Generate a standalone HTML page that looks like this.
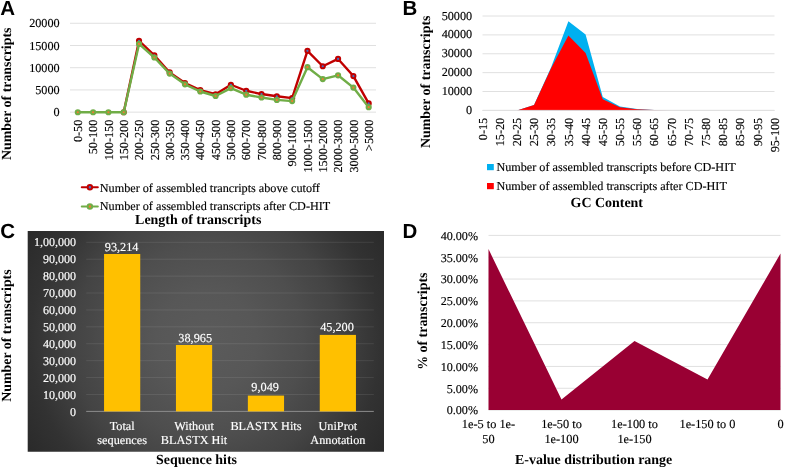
<!DOCTYPE html>
<html><head><meta charset="utf-8"><title>Figure</title>
<style>
html,body{margin:0;padding:0;background:#fff;}
body{width:785px;height:468px;overflow:hidden;}
svg{display:block;}
text{text-rendering:geometricPrecision;}
.S{font-family:"Liberation Serif", "Times New Roman", serif;}
.A{font-family:"Liberation Sans", Arial, sans-serif;}
</style></head><body>
<svg width="785" height="468" viewBox="0 0 785 468">
<defs>
<radialGradient id="cg" gradientUnits="userSpaceOnUse" cx="206" cy="341" r="215">
<stop offset="0" stop-color="rgb(91,91,91)"/>
<stop offset="0.233" stop-color="rgb(87,87,87)"/>
<stop offset="0.451" stop-color="rgb(78,78,78)"/>
<stop offset="0.54" stop-color="rgb(72,72,72)"/>
<stop offset="0.614" stop-color="rgb(68,68,68)"/>
<stop offset="0.814" stop-color="rgb(50,50,50)"/>
<stop offset="0.972" stop-color="rgb(42,42,42)"/>
<stop offset="1" stop-color="rgb(41,41,41)"/>
</radialGradient>
</defs>
<rect width="785" height="468" fill="#fff"/>
<text class="A" x="0.3" y="15.4" font-size="20.5" text-anchor="start" font-weight="bold" fill="#000">A</text>
<line x1="70" y1="23.25" x2="376" y2="23.25" stroke="#e0e0e0" stroke-width="1"/>
<text class="S" x="59.6" y="27.45" font-size="12.2" text-anchor="end" fill="#000000" stroke="#000000" stroke-width="0.15" stroke-linejoin="round">20000</text>
<line x1="70" y1="45.47" x2="376" y2="45.47" stroke="#e0e0e0" stroke-width="1"/>
<text class="S" x="59.6" y="49.67" font-size="12.2" text-anchor="end" fill="#000000" stroke="#000000" stroke-width="0.15" stroke-linejoin="round">15000</text>
<line x1="70" y1="67.69" x2="376" y2="67.69" stroke="#e0e0e0" stroke-width="1"/>
<text class="S" x="59.6" y="71.89" font-size="12.2" text-anchor="end" fill="#000000" stroke="#000000" stroke-width="0.15" stroke-linejoin="round">10000</text>
<line x1="70" y1="89.91" x2="376" y2="89.91" stroke="#e0e0e0" stroke-width="1"/>
<text class="S" x="59.6" y="94.11" font-size="12.2" text-anchor="end" fill="#000000" stroke="#000000" stroke-width="0.15" stroke-linejoin="round">5000</text>
<line x1="70" y1="112.13" x2="376" y2="112.13" stroke="#e0e0e0" stroke-width="1"/>
<text class="S" x="59.6" y="116.33" font-size="12.2" text-anchor="end" fill="#000000" stroke="#000000" stroke-width="0.15" stroke-linejoin="round">0</text>
<text class="S" x="82.0" y="119.7" font-size="12.2" text-anchor="end" fill="#000000" transform="rotate(-90 82.0 119.7)" stroke="#000000" stroke-width="0.15" stroke-linejoin="round">0-50</text>
<text class="S" x="97.31" y="119.7" font-size="12.2" text-anchor="end" fill="#000000" transform="rotate(-90 97.31 119.7)" stroke="#000000" stroke-width="0.15" stroke-linejoin="round">50-100</text>
<text class="S" x="112.62" y="119.7" font-size="12.2" text-anchor="end" fill="#000000" transform="rotate(-90 112.62 119.7)" stroke="#000000" stroke-width="0.15" stroke-linejoin="round">100-150</text>
<text class="S" x="127.93" y="119.7" font-size="12.2" text-anchor="end" fill="#000000" transform="rotate(-90 127.93 119.7)" stroke="#000000" stroke-width="0.15" stroke-linejoin="round">150-200</text>
<text class="S" x="143.24" y="119.7" font-size="12.2" text-anchor="end" fill="#000000" transform="rotate(-90 143.24 119.7)" stroke="#000000" stroke-width="0.15" stroke-linejoin="round">200-250</text>
<text class="S" x="158.55" y="119.7" font-size="12.2" text-anchor="end" fill="#000000" transform="rotate(-90 158.55 119.7)" stroke="#000000" stroke-width="0.15" stroke-linejoin="round">250-300</text>
<text class="S" x="173.86" y="119.7" font-size="12.2" text-anchor="end" fill="#000000" transform="rotate(-90 173.86 119.7)" stroke="#000000" stroke-width="0.15" stroke-linejoin="round">300-350</text>
<text class="S" x="189.17" y="119.7" font-size="12.2" text-anchor="end" fill="#000000" transform="rotate(-90 189.17 119.7)" stroke="#000000" stroke-width="0.15" stroke-linejoin="round">350-400</text>
<text class="S" x="204.48" y="119.7" font-size="12.2" text-anchor="end" fill="#000000" transform="rotate(-90 204.48 119.7)" stroke="#000000" stroke-width="0.15" stroke-linejoin="round">400-450</text>
<text class="S" x="219.79" y="119.7" font-size="12.2" text-anchor="end" fill="#000000" transform="rotate(-90 219.79 119.7)" stroke="#000000" stroke-width="0.15" stroke-linejoin="round">450-500</text>
<text class="S" x="235.1" y="119.7" font-size="12.2" text-anchor="end" fill="#000000" transform="rotate(-90 235.1 119.7)" stroke="#000000" stroke-width="0.15" stroke-linejoin="round">500-600</text>
<text class="S" x="250.41" y="119.7" font-size="12.2" text-anchor="end" fill="#000000" transform="rotate(-90 250.41 119.7)" stroke="#000000" stroke-width="0.15" stroke-linejoin="round">600-700</text>
<text class="S" x="265.72" y="119.7" font-size="12.2" text-anchor="end" fill="#000000" transform="rotate(-90 265.72 119.7)" stroke="#000000" stroke-width="0.15" stroke-linejoin="round">700-800</text>
<text class="S" x="281.03" y="119.7" font-size="12.2" text-anchor="end" fill="#000000" transform="rotate(-90 281.03 119.7)" stroke="#000000" stroke-width="0.15" stroke-linejoin="round">800-900</text>
<text class="S" x="296.34" y="119.7" font-size="12.2" text-anchor="end" fill="#000000" transform="rotate(-90 296.34 119.7)" stroke="#000000" stroke-width="0.15" stroke-linejoin="round">900-1000</text>
<text class="S" x="311.65" y="119.7" font-size="12.2" text-anchor="end" fill="#000000" transform="rotate(-90 311.65 119.7)" stroke="#000000" stroke-width="0.15" stroke-linejoin="round">1000-1500</text>
<text class="S" x="326.96" y="119.7" font-size="12.2" text-anchor="end" fill="#000000" transform="rotate(-90 326.96 119.7)" stroke="#000000" stroke-width="0.15" stroke-linejoin="round">1500-2000</text>
<text class="S" x="342.27" y="119.7" font-size="12.2" text-anchor="end" fill="#000000" transform="rotate(-90 342.27 119.7)" stroke="#000000" stroke-width="0.15" stroke-linejoin="round">2000-3000</text>
<text class="S" x="357.58" y="119.7" font-size="12.2" text-anchor="end" fill="#000000" transform="rotate(-90 357.58 119.7)" stroke="#000000" stroke-width="0.15" stroke-linejoin="round">3000-5000</text>
<text class="S" x="372.89" y="119.7" font-size="12.2" text-anchor="end" fill="#000000" transform="rotate(-90 372.89 119.7)" stroke="#000000" stroke-width="0.15" stroke-linejoin="round">&gt;5000</text>
<polyline points="123.73,112.25 139.04,40.85 154.35,55.25 169.66,72.45 184.97,83.05 200.28,90.05 215.59,94.25 230.90,84.75 246.21,90.75 261.52,94.05 276.83,96.25 292.14,98.15 307.45,50.85 322.76,66.25 338.07,58.95 353.38,76.05 368.69,103.45" fill="none" stroke="#c00000" stroke-width="2.4" stroke-linejoin="round"/>
<circle cx="123.73" cy="112.25" r="2.1" fill="#4472c4" stroke="#c00000" stroke-width="2.0"/>
<circle cx="139.04" cy="40.85" r="2.1" fill="#4472c4" stroke="#c00000" stroke-width="2.0"/>
<circle cx="154.35" cy="55.25" r="2.1" fill="#4472c4" stroke="#c00000" stroke-width="2.0"/>
<circle cx="169.66" cy="72.45" r="2.1" fill="#4472c4" stroke="#c00000" stroke-width="2.0"/>
<circle cx="184.97" cy="83.05" r="2.1" fill="#4472c4" stroke="#c00000" stroke-width="2.0"/>
<circle cx="200.28" cy="90.05" r="2.1" fill="#4472c4" stroke="#c00000" stroke-width="2.0"/>
<circle cx="215.59" cy="94.25" r="2.1" fill="#4472c4" stroke="#c00000" stroke-width="2.0"/>
<circle cx="230.90" cy="84.75" r="2.1" fill="#4472c4" stroke="#c00000" stroke-width="2.0"/>
<circle cx="246.21" cy="90.75" r="2.1" fill="#4472c4" stroke="#c00000" stroke-width="2.0"/>
<circle cx="261.52" cy="94.05" r="2.1" fill="#4472c4" stroke="#c00000" stroke-width="2.0"/>
<circle cx="276.83" cy="96.25" r="2.1" fill="#4472c4" stroke="#c00000" stroke-width="2.0"/>
<circle cx="292.14" cy="98.15" r="2.1" fill="#4472c4" stroke="#c00000" stroke-width="2.0"/>
<circle cx="307.45" cy="50.85" r="2.1" fill="#4472c4" stroke="#c00000" stroke-width="2.0"/>
<circle cx="322.76" cy="66.25" r="2.1" fill="#4472c4" stroke="#c00000" stroke-width="2.0"/>
<circle cx="338.07" cy="58.95" r="2.1" fill="#4472c4" stroke="#c00000" stroke-width="2.0"/>
<circle cx="353.38" cy="76.05" r="2.1" fill="#4472c4" stroke="#c00000" stroke-width="2.0"/>
<circle cx="368.69" cy="103.45" r="2.1" fill="#4472c4" stroke="#c00000" stroke-width="2.0"/>
<polyline points="77.80,112.25 93.11,112.25 108.42,112.25 123.73,112.25 139.04,43.90 154.35,57.50 169.66,73.60 184.97,84.30 200.28,91.50 215.59,96.00 230.90,88.10 246.21,94.70 261.52,97.50 276.83,99.90 292.14,101.10 307.45,67.20 322.76,79.10 338.07,75.30 353.38,87.60 368.69,107.20" fill="none" stroke="#70ad47" stroke-width="2.4" stroke-linejoin="round"/>
<circle cx="77.80" cy="112.25" r="2.1" fill="#ed7d31" stroke="#70ad47" stroke-width="2.0"/>
<circle cx="93.11" cy="112.25" r="2.1" fill="#ed7d31" stroke="#70ad47" stroke-width="2.0"/>
<circle cx="108.42" cy="112.25" r="2.1" fill="#ed7d31" stroke="#70ad47" stroke-width="2.0"/>
<circle cx="123.73" cy="112.25" r="2.1" fill="#ed7d31" stroke="#70ad47" stroke-width="2.0"/>
<circle cx="139.04" cy="43.90" r="2.1" fill="#ed7d31" stroke="#70ad47" stroke-width="2.0"/>
<circle cx="154.35" cy="57.50" r="2.1" fill="#ed7d31" stroke="#70ad47" stroke-width="2.0"/>
<circle cx="169.66" cy="73.60" r="2.1" fill="#ed7d31" stroke="#70ad47" stroke-width="2.0"/>
<circle cx="184.97" cy="84.30" r="2.1" fill="#ed7d31" stroke="#70ad47" stroke-width="2.0"/>
<circle cx="200.28" cy="91.50" r="2.1" fill="#ed7d31" stroke="#70ad47" stroke-width="2.0"/>
<circle cx="215.59" cy="96.00" r="2.1" fill="#ed7d31" stroke="#70ad47" stroke-width="2.0"/>
<circle cx="230.90" cy="88.10" r="2.1" fill="#ed7d31" stroke="#70ad47" stroke-width="2.0"/>
<circle cx="246.21" cy="94.70" r="2.1" fill="#ed7d31" stroke="#70ad47" stroke-width="2.0"/>
<circle cx="261.52" cy="97.50" r="2.1" fill="#ed7d31" stroke="#70ad47" stroke-width="2.0"/>
<circle cx="276.83" cy="99.90" r="2.1" fill="#ed7d31" stroke="#70ad47" stroke-width="2.0"/>
<circle cx="292.14" cy="101.10" r="2.1" fill="#ed7d31" stroke="#70ad47" stroke-width="2.0"/>
<circle cx="307.45" cy="67.20" r="2.1" fill="#ed7d31" stroke="#70ad47" stroke-width="2.0"/>
<circle cx="322.76" cy="79.10" r="2.1" fill="#ed7d31" stroke="#70ad47" stroke-width="2.0"/>
<circle cx="338.07" cy="75.30" r="2.1" fill="#ed7d31" stroke="#70ad47" stroke-width="2.0"/>
<circle cx="353.38" cy="87.60" r="2.1" fill="#ed7d31" stroke="#70ad47" stroke-width="2.0"/>
<circle cx="368.69" cy="107.20" r="2.1" fill="#ed7d31" stroke="#70ad47" stroke-width="2.0"/>
<line x1="81.8" y1="187.3" x2="97.8" y2="187.3" stroke="#c00000" stroke-width="2.1" stroke-linecap="round"/>
<circle cx="89.9" cy="187.3" r="2.2" fill="#4472c4" stroke="#c00000" stroke-width="2.0"/>
<text class="S" x="99.8" y="191.6" font-size="12.2" text-anchor="start" fill="#000000" stroke="#000000" stroke-width="0.15" stroke-linejoin="round">Number of assembled trancripts above cutoff</text>
<line x1="81.8" y1="206.5" x2="97.8" y2="206.5" stroke="#70ad47" stroke-width="2.1" stroke-linecap="round"/>
<circle cx="89.9" cy="206.5" r="2.2" fill="#ed7d31" stroke="#70ad47" stroke-width="2.0"/>
<text class="S" x="99.8" y="209.8" font-size="12.2" text-anchor="start" fill="#000000" stroke="#000000" stroke-width="0.15" stroke-linejoin="round">Number of assembled transcripts after CD-HIT</text>
<text class="S" x="135.1" y="224.4" font-size="13.95" text-anchor="start" font-weight="bold" fill="#000">Length of transcripts</text>
<text class="S" x="10.7" y="160" font-size="13.9" text-anchor="start" font-weight="bold" fill="#000" transform="rotate(-90 10.7 160)">Number of transcripts</text>
<text class="A" x="402.5" y="15.4" font-size="20.5" text-anchor="start" font-weight="bold" fill="#000">B</text>
<line x1="482.5" y1="16.0" x2="774.5" y2="16.0" stroke="#e0e0e0" stroke-width="1"/>
<text class="S" x="472.1" y="19.6" font-size="12.2" text-anchor="end" fill="#000000" stroke="#000000" stroke-width="0.15" stroke-linejoin="round">50000</text>
<line x1="482.5" y1="34.879999999999995" x2="774.5" y2="34.879999999999995" stroke="#e0e0e0" stroke-width="1"/>
<text class="S" x="472.1" y="38.48" font-size="12.2" text-anchor="end" fill="#000000" stroke="#000000" stroke-width="0.15" stroke-linejoin="round">40000</text>
<line x1="482.5" y1="53.76" x2="774.5" y2="53.76" stroke="#e0e0e0" stroke-width="1"/>
<text class="S" x="472.1" y="57.36" font-size="12.2" text-anchor="end" fill="#000000" stroke="#000000" stroke-width="0.15" stroke-linejoin="round">30000</text>
<line x1="482.5" y1="72.64" x2="774.5" y2="72.64" stroke="#e0e0e0" stroke-width="1"/>
<text class="S" x="472.1" y="76.24" font-size="12.2" text-anchor="end" fill="#000000" stroke="#000000" stroke-width="0.15" stroke-linejoin="round">20000</text>
<line x1="482.5" y1="91.52" x2="774.5" y2="91.52" stroke="#e0e0e0" stroke-width="1"/>
<text class="S" x="472.1" y="95.11999999999999" font-size="12.2" text-anchor="end" fill="#000000" stroke="#000000" stroke-width="0.15" stroke-linejoin="round">10000</text>
<line x1="482.5" y1="110.39999999999999" x2="774.5" y2="110.39999999999999" stroke="#e0e0e0" stroke-width="1"/>
<text class="S" x="472.1" y="113.99999999999999" font-size="12.2" text-anchor="end" fill="#000000" stroke="#000000" stroke-width="0.15" stroke-linejoin="round">0</text>
<polygon points="482.50,110.4 482.50,110.40 499.68,110.40 516.86,110.40 534.04,105.10 551.22,67.00 568.40,21.30 585.58,34.60 602.76,97.00 619.94,106.50 637.12,109.00 654.30,110.00 671.48,110.40 688.66,110.40 705.84,110.40 723.02,110.40 740.20,110.40 757.38,110.40 774.56,110.40 774.56,110.4" fill="#00b0f0"/>
<polygon points="482.50,110.4 482.50,110.40 499.68,110.40 516.86,110.40 534.04,105.10 551.22,68.00 568.40,35.60 585.58,53.00 602.76,99.20 619.94,107.20 637.12,109.20 654.30,110.00 671.48,110.40 688.66,110.40 705.84,110.40 723.02,110.40 740.20,110.40 757.38,110.40 774.56,110.40 774.56,110.4" fill="#ff0000"/>
<line x1="482.5" y1="110.4" x2="774.5" y2="110.4" stroke="#e0e0e0" stroke-width="1"/>
<text class="S" x="486.7" y="117.8" font-size="12.2" text-anchor="end" fill="#000000" transform="rotate(-90 486.7 117.8)" stroke="#000000" stroke-width="0.15" stroke-linejoin="round">0-15</text>
<text class="S" x="503.88" y="117.8" font-size="12.2" text-anchor="end" fill="#000000" transform="rotate(-90 503.88 117.8)" stroke="#000000" stroke-width="0.15" stroke-linejoin="round">15-20</text>
<text class="S" x="521.06" y="117.8" font-size="12.2" text-anchor="end" fill="#000000" transform="rotate(-90 521.06 117.8)" stroke="#000000" stroke-width="0.15" stroke-linejoin="round">20-25</text>
<text class="S" x="538.24" y="117.8" font-size="12.2" text-anchor="end" fill="#000000" transform="rotate(-90 538.24 117.8)" stroke="#000000" stroke-width="0.15" stroke-linejoin="round">25-30</text>
<text class="S" x="555.42" y="117.8" font-size="12.2" text-anchor="end" fill="#000000" transform="rotate(-90 555.42 117.8)" stroke="#000000" stroke-width="0.15" stroke-linejoin="round">30-35</text>
<text class="S" x="572.6" y="117.8" font-size="12.2" text-anchor="end" fill="#000000" transform="rotate(-90 572.6 117.8)" stroke="#000000" stroke-width="0.15" stroke-linejoin="round">35-40</text>
<text class="S" x="589.78" y="117.8" font-size="12.2" text-anchor="end" fill="#000000" transform="rotate(-90 589.78 117.8)" stroke="#000000" stroke-width="0.15" stroke-linejoin="round">40-45</text>
<text class="S" x="606.96" y="117.8" font-size="12.2" text-anchor="end" fill="#000000" transform="rotate(-90 606.96 117.8)" stroke="#000000" stroke-width="0.15" stroke-linejoin="round">45-50</text>
<text class="S" x="624.14" y="117.8" font-size="12.2" text-anchor="end" fill="#000000" transform="rotate(-90 624.14 117.8)" stroke="#000000" stroke-width="0.15" stroke-linejoin="round">50-55</text>
<text class="S" x="641.32" y="117.8" font-size="12.2" text-anchor="end" fill="#000000" transform="rotate(-90 641.32 117.8)" stroke="#000000" stroke-width="0.15" stroke-linejoin="round">55-60</text>
<text class="S" x="658.5" y="117.8" font-size="12.2" text-anchor="end" fill="#000000" transform="rotate(-90 658.5 117.8)" stroke="#000000" stroke-width="0.15" stroke-linejoin="round">60-65</text>
<text class="S" x="675.68" y="117.8" font-size="12.2" text-anchor="end" fill="#000000" transform="rotate(-90 675.68 117.8)" stroke="#000000" stroke-width="0.15" stroke-linejoin="round">65-70</text>
<text class="S" x="692.86" y="117.8" font-size="12.2" text-anchor="end" fill="#000000" transform="rotate(-90 692.86 117.8)" stroke="#000000" stroke-width="0.15" stroke-linejoin="round">70-75</text>
<text class="S" x="710.04" y="117.8" font-size="12.2" text-anchor="end" fill="#000000" transform="rotate(-90 710.04 117.8)" stroke="#000000" stroke-width="0.15" stroke-linejoin="round">75-80</text>
<text class="S" x="727.22" y="117.8" font-size="12.2" text-anchor="end" fill="#000000" transform="rotate(-90 727.22 117.8)" stroke="#000000" stroke-width="0.15" stroke-linejoin="round">80-85</text>
<text class="S" x="744.4" y="117.8" font-size="12.2" text-anchor="end" fill="#000000" transform="rotate(-90 744.4 117.8)" stroke="#000000" stroke-width="0.15" stroke-linejoin="round">85-90</text>
<text class="S" x="761.58" y="117.8" font-size="12.2" text-anchor="end" fill="#000000" transform="rotate(-90 761.58 117.8)" stroke="#000000" stroke-width="0.15" stroke-linejoin="round">90-95</text>
<text class="S" x="778.76" y="117.8" font-size="12.2" text-anchor="end" fill="#000000" transform="rotate(-90 778.76 117.8)" stroke="#000000" stroke-width="0.15" stroke-linejoin="round">95-100</text>
<rect x="487" y="164" width="6.8" height="6.2" fill="#00b0f0"/>
<text class="S" x="496.4" y="171.3" font-size="12.2" text-anchor="start" fill="#000000" stroke="#000000" stroke-width="0.15" stroke-linejoin="round">Number of assembled transcripts before CD-HIT</text>
<rect x="487" y="183" width="6.8" height="6.2" fill="#ff0000"/>
<text class="S" x="496.4" y="189.6" font-size="12.2" text-anchor="start" fill="#000000" stroke="#000000" stroke-width="0.15" stroke-linejoin="round">Number of assembled transcripts after CD-HIT</text>
<text class="S" x="570.6" y="206.6" font-size="13.95" text-anchor="start" font-weight="bold" fill="#000">GC Content</text>
<text class="S" x="430.0" y="148" font-size="13.9" text-anchor="start" font-weight="bold" fill="#000" transform="rotate(-90 430.0 148)">Number of transcripts</text>
<text class="A" x="0.2" y="237.9" font-size="20.5" text-anchor="start" font-weight="bold" fill="#000">C</text>
<rect x="27.7" y="231" width="356.3" height="220.75" fill="url(#cg)"/>
<line x1="86.2" y1="242.3" x2="373.8" y2="242.3" stroke="rgba(255,255,255,0.09)" stroke-width="1"/>
<text class="S" x="76.0" y="246.4" font-size="12" text-anchor="end" fill="#ffffff" stroke="#ffffff" stroke-width="0.15" stroke-linejoin="round">1,00,000</text>
<line x1="86.2" y1="259.21" x2="373.8" y2="259.21" stroke="rgba(255,255,255,0.09)" stroke-width="1"/>
<text class="S" x="76.0" y="263.31" font-size="12" text-anchor="end" fill="#ffffff" stroke="#ffffff" stroke-width="0.15" stroke-linejoin="round">90,000</text>
<line x1="86.2" y1="276.12" x2="373.8" y2="276.12" stroke="rgba(255,255,255,0.09)" stroke-width="1"/>
<text class="S" x="76.0" y="280.22" font-size="12" text-anchor="end" fill="#ffffff" stroke="#ffffff" stroke-width="0.15" stroke-linejoin="round">80,000</text>
<line x1="86.2" y1="293.03" x2="373.8" y2="293.03" stroke="rgba(255,255,255,0.09)" stroke-width="1"/>
<text class="S" x="76.0" y="297.13" font-size="12" text-anchor="end" fill="#ffffff" stroke="#ffffff" stroke-width="0.15" stroke-linejoin="round">70,000</text>
<line x1="86.2" y1="309.94" x2="373.8" y2="309.94" stroke="rgba(255,255,255,0.09)" stroke-width="1"/>
<text class="S" x="76.0" y="314.04" font-size="12" text-anchor="end" fill="#ffffff" stroke="#ffffff" stroke-width="0.15" stroke-linejoin="round">60,000</text>
<line x1="86.2" y1="326.85" x2="373.8" y2="326.85" stroke="rgba(255,255,255,0.09)" stroke-width="1"/>
<text class="S" x="76.0" y="330.95" font-size="12" text-anchor="end" fill="#ffffff" stroke="#ffffff" stroke-width="0.15" stroke-linejoin="round">50,000</text>
<line x1="86.2" y1="343.76" x2="373.8" y2="343.76" stroke="rgba(255,255,255,0.09)" stroke-width="1"/>
<text class="S" x="76.0" y="347.86" font-size="12" text-anchor="end" fill="#ffffff" stroke="#ffffff" stroke-width="0.15" stroke-linejoin="round">40,000</text>
<line x1="86.2" y1="360.67" x2="373.8" y2="360.67" stroke="rgba(255,255,255,0.09)" stroke-width="1"/>
<text class="S" x="76.0" y="364.77" font-size="12" text-anchor="end" fill="#ffffff" stroke="#ffffff" stroke-width="0.15" stroke-linejoin="round">30,000</text>
<line x1="86.2" y1="377.58" x2="373.8" y2="377.58" stroke="rgba(255,255,255,0.09)" stroke-width="1"/>
<text class="S" x="76.0" y="381.68" font-size="12" text-anchor="end" fill="#ffffff" stroke="#ffffff" stroke-width="0.15" stroke-linejoin="round">20,000</text>
<line x1="86.2" y1="394.49" x2="373.8" y2="394.49" stroke="rgba(255,255,255,0.09)" stroke-width="1"/>
<text class="S" x="76.0" y="398.59" font-size="12" text-anchor="end" fill="#ffffff" stroke="#ffffff" stroke-width="0.15" stroke-linejoin="round">10,000</text>
<text class="S" x="76.0" y="415.5" font-size="12" text-anchor="end" fill="#ffffff" stroke="#ffffff" stroke-width="0.15" stroke-linejoin="round">0</text>
<line x1="86.2" y1="411.4" x2="373.8" y2="411.4" stroke="#8c8c8c" stroke-width="1"/>
<rect x="104.05" y="254.00" width="36.2" height="157.40" fill="#ffc000"/>
<text class="S" x="121.6" y="251.3" font-size="12.25" text-anchor="middle" fill="#ffffff" stroke="#ffffff" stroke-width="0.15" stroke-linejoin="round">93,214</text>
<rect x="175.95" y="345.00" width="36.2" height="66.40" fill="#ffc000"/>
<text class="S" x="195.2" y="341.7" font-size="12.25" text-anchor="middle" fill="#ffffff" stroke="#ffffff" stroke-width="0.15" stroke-linejoin="round">38,965</text>
<rect x="247.85" y="395.60" width="36.2" height="15.80" fill="#ffc000"/>
<text class="S" x="265.1" y="390.6" font-size="12.25" text-anchor="middle" fill="#ffffff" stroke="#ffffff" stroke-width="0.15" stroke-linejoin="round">9,049</text>
<rect x="319.75" y="334.90" width="36.2" height="76.50" fill="#ffc000"/>
<text class="S" x="337.0" y="330.8" font-size="12.25" text-anchor="middle" fill="#ffffff" stroke="#ffffff" stroke-width="0.15" stroke-linejoin="round">45,200</text>
<text class="S" x="122.15" y="430.3" font-size="12.25" text-anchor="middle" fill="#ffffff" stroke="#ffffff" stroke-width="0.15" stroke-linejoin="round">Total</text>
<text class="S" x="122.15" y="443.7" font-size="12.25" text-anchor="middle" fill="#ffffff" stroke="#ffffff" stroke-width="0.15" stroke-linejoin="round">sequences</text>
<text class="S" x="194.05" y="430.3" font-size="12.25" text-anchor="middle" fill="#ffffff" stroke="#ffffff" stroke-width="0.15" stroke-linejoin="round">Without</text>
<text class="S" x="194.05" y="443.7" font-size="12.25" text-anchor="middle" fill="#ffffff" stroke="#ffffff" stroke-width="0.15" stroke-linejoin="round">BLASTX Hit</text>
<text class="S" x="265.95" y="430.3" font-size="12.25" text-anchor="middle" fill="#ffffff" stroke="#ffffff" stroke-width="0.15" stroke-linejoin="round">BLASTX Hits</text>
<text class="S" x="337.85" y="430.3" font-size="12.25" text-anchor="middle" fill="#ffffff" stroke="#ffffff" stroke-width="0.15" stroke-linejoin="round">UniProt</text>
<text class="S" x="337.85" y="443.7" font-size="12.25" text-anchor="middle" fill="#ffffff" stroke="#ffffff" stroke-width="0.15" stroke-linejoin="round">Annotation</text>
<text class="S" x="156.1" y="463.5" font-size="13.95" text-anchor="start" font-weight="bold" fill="#000">Sequence hits</text>
<text class="S" x="10.7" y="401.8" font-size="13.9" text-anchor="start" font-weight="bold" fill="#000" transform="rotate(-90 10.7 401.8)">Number of transcripts</text>
<text class="A" x="402.5" y="237.7" font-size="20.5" text-anchor="start" font-weight="bold" fill="#000">D</text>
<line x1="488.5" y1="235.38" x2="780.5" y2="235.38" stroke="#e0e0e0" stroke-width="1"/>
<text class="S" x="478.0" y="239.68" font-size="12.1" text-anchor="end" fill="#000000" stroke="#000000" stroke-width="0.15" stroke-linejoin="round">40.00%</text>
<line x1="488.5" y1="257.22" x2="780.5" y2="257.22" stroke="#e0e0e0" stroke-width="1"/>
<text class="S" x="478.0" y="261.52" font-size="12.1" text-anchor="end" fill="#000000" stroke="#000000" stroke-width="0.15" stroke-linejoin="round">35.00%</text>
<line x1="488.5" y1="279.06" x2="780.5" y2="279.06" stroke="#e0e0e0" stroke-width="1"/>
<text class="S" x="478.0" y="283.36" font-size="12.1" text-anchor="end" fill="#000000" stroke="#000000" stroke-width="0.15" stroke-linejoin="round">30.00%</text>
<line x1="488.5" y1="300.9" x2="780.5" y2="300.9" stroke="#e0e0e0" stroke-width="1"/>
<text class="S" x="478.0" y="305.2" font-size="12.1" text-anchor="end" fill="#000000" stroke="#000000" stroke-width="0.15" stroke-linejoin="round">25.00%</text>
<line x1="488.5" y1="322.74" x2="780.5" y2="322.74" stroke="#e0e0e0" stroke-width="1"/>
<text class="S" x="478.0" y="327.04" font-size="12.1" text-anchor="end" fill="#000000" stroke="#000000" stroke-width="0.15" stroke-linejoin="round">20.00%</text>
<line x1="488.5" y1="344.58" x2="780.5" y2="344.58" stroke="#e0e0e0" stroke-width="1"/>
<text class="S" x="478.0" y="348.88" font-size="12.1" text-anchor="end" fill="#000000" stroke="#000000" stroke-width="0.15" stroke-linejoin="round">15.00%</text>
<line x1="488.5" y1="366.42" x2="780.5" y2="366.42" stroke="#e0e0e0" stroke-width="1"/>
<text class="S" x="478.0" y="370.72" font-size="12.1" text-anchor="end" fill="#000000" stroke="#000000" stroke-width="0.15" stroke-linejoin="round">10.00%</text>
<line x1="488.5" y1="388.26" x2="780.5" y2="388.26" stroke="#e0e0e0" stroke-width="1"/>
<text class="S" x="478.0" y="392.56" font-size="12.1" text-anchor="end" fill="#000000" stroke="#000000" stroke-width="0.15" stroke-linejoin="round">5.00%</text>
<line x1="488.5" y1="410.1" x2="780.5" y2="410.1" stroke="#e0e0e0" stroke-width="1"/>
<text class="S" x="478.0" y="414.4" font-size="12.1" text-anchor="end" fill="#000000" stroke="#000000" stroke-width="0.15" stroke-linejoin="round">0.00%</text>
<polygon points="488.50,410.1 488.50,249.10 561.50,399.49 634.50,340.91 707.50,379.61 780.50,253.51 780.50,410.1" fill="#990033"/>
<text class="S" x="488.5" y="428.2" font-size="12.3" text-anchor="middle" fill="#000000" stroke="#000000" stroke-width="0.15" stroke-linejoin="round">1e-5 to 1e-</text>
<text class="S" x="488.5" y="442.5" font-size="12.3" text-anchor="middle" fill="#000000" stroke="#000000" stroke-width="0.15" stroke-linejoin="round">50</text>
<text class="S" x="561.5" y="428.2" font-size="12.3" text-anchor="middle" fill="#000000" stroke="#000000" stroke-width="0.15" stroke-linejoin="round">1e-50 to</text>
<text class="S" x="561.5" y="442.5" font-size="12.3" text-anchor="middle" fill="#000000" stroke="#000000" stroke-width="0.15" stroke-linejoin="round">1e-100</text>
<text class="S" x="634.5" y="428.2" font-size="12.3" text-anchor="middle" fill="#000000" stroke="#000000" stroke-width="0.15" stroke-linejoin="round">1e-100 to</text>
<text class="S" x="634.5" y="442.5" font-size="12.3" text-anchor="middle" fill="#000000" stroke="#000000" stroke-width="0.15" stroke-linejoin="round">1e-150</text>
<text class="S" x="707.5" y="428.2" font-size="12.3" text-anchor="middle" fill="#000000" stroke="#000000" stroke-width="0.15" stroke-linejoin="round">1e-150 to 0</text>
<text class="S" x="780.5" y="428.2" font-size="12.3" text-anchor="middle" fill="#000000" stroke="#000000" stroke-width="0.15" stroke-linejoin="round">0</text>
<text class="S" x="515.0" y="463.5" font-size="13.95" text-anchor="start" font-weight="bold" fill="#000">E-value distribution range</text>
<text class="S" x="427.1" y="369.8" font-size="13.9" text-anchor="start" font-weight="bold" fill="#000" transform="rotate(-90 427.1 369.8)">% of transcripts</text>
</svg>
</body></html>
